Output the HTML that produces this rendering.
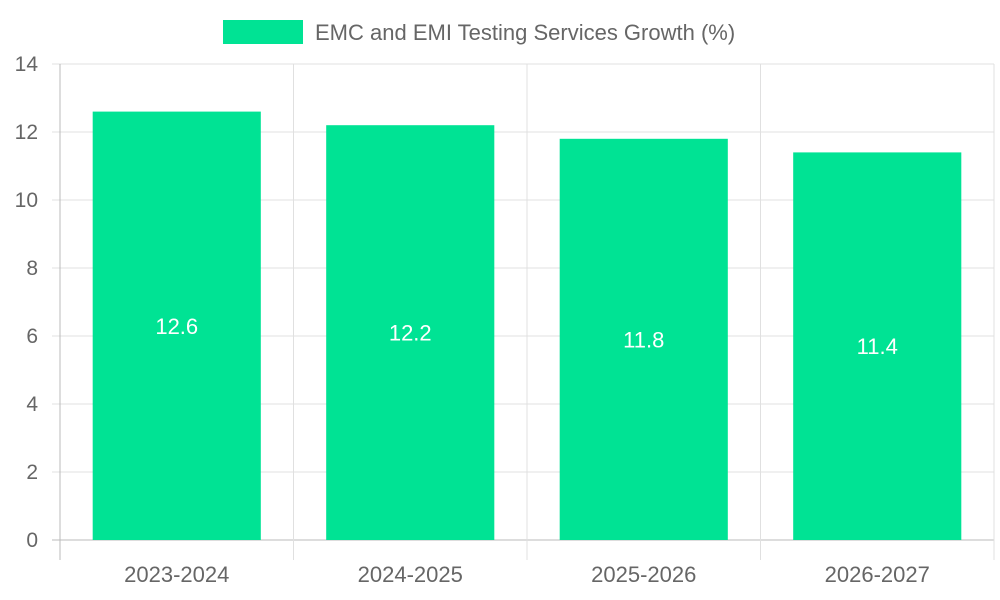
<!DOCTYPE html>
<html><head><meta charset="utf-8"><style>
html,body{margin:0;padding:0;background:#fff;}
svg{display:block;font-family:"Liberation Sans",sans-serif;}
</style></head><body>
<svg id="chart" width="1000" height="600"></svg>
<script>
const categories = ["2023-2024","2024-2025","2025-2026","2026-2027"];
const values = [12.6, 12.2, 11.8, 11.4];
const yTicks = [0,2,4,6,8,10,12,14];
const seriesName = "EMC and EMI Testing Services Growth (%)";

const NS="http://www.w3.org/2000/svg";
const svg=document.getElementById("chart");
const L=60,R=994,T=64,B=540,yMax=14;
const y=v=>B-(v/yMax)*(B-T);
const bw=(R-L)/categories.length;
const x=i=>L+bw*i;
function mk(tag,attrs,parent){const e=document.createElementNS(NS,tag);for(const k in attrs)e.setAttribute(k,attrs[k]);(parent||svg).appendChild(e);return e;}

const grid=mk("g",{});


yTicks.forEach(t=>{
  const l=mk("line",{x1:52,x2:R,y1:y(t),y2:y(t),stroke:t===0?"#bbb":"#e0e0e0","stroke-width":1},grid);
  
  
  const tx=mk("text",{x:38,y:y(t)+7,"text-anchor":"end","font-size":21,fill:"#666"});
  tx.textContent=t;
  
  
});
for(let i=0;i<=categories.length;i++){
  const l=mk("line",{x1:x(i),x2:x(i),y1:T,y2:560,stroke:i===0?"#bbb":"#e0e0e0","stroke-width":1},grid);
  
  
}
categories.forEach((c,i)=>{
  const w=bw*0.72, cx=x(i)+bw/2;
  const r=mk("rect",{x:cx-w/2,y:y(values[i]),width:w,height:B-y(values[i]),fill:"#00e394"});
  
  
  const v=mk("text",{x:cx,y:(y(values[i])+B)/2+8,"text-anchor":"middle","font-size":22,fill:"#fff"});
  v.textContent=values[i];
  
  
  const t=mk("text",{x:cx,y:582,"text-anchor":"middle","font-size":22,fill:"#666"});
  t.textContent=c;
  
  
});
const lg=mk("g",{});


mk("rect",{x:223,y:20,width:80,height:24,fill:"#00e394"},lg);
const lt=mk("text",{x:315,y:40,"font-size":22,fill:"#666"},lg);
lt.textContent=seriesName;
</script>
</body></html>
